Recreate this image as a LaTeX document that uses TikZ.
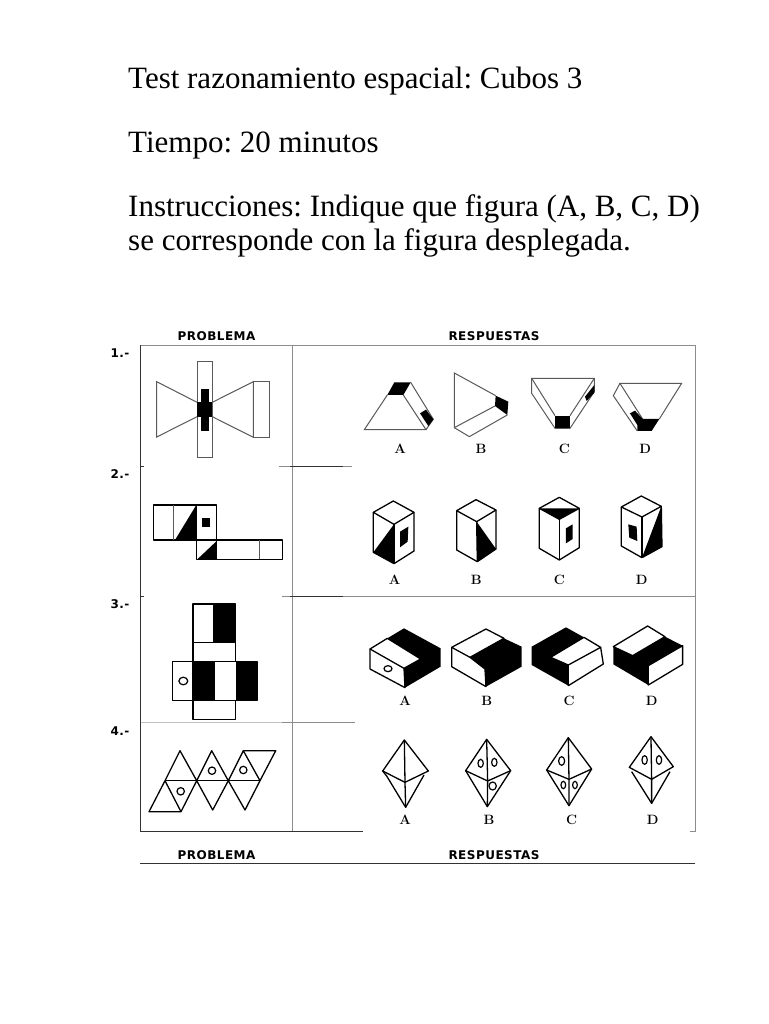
\documentclass[tikz,border=0pt]{standalone}
\usepackage{fontspec}
\newfontfamily\titlefont{Liberation Serif}
\newfontfamily\headfont[LetterSpace=4]{DejaVu Sans}
\usepackage{tikz}

\tikzset{
  titletext/.style={anchor=base west, inner sep=0pt, font=\titlefont\frenchspacing\fontsize{31}{34}\selectfont},
  headtext/.style={inner sep=0pt, font=\headfont\bfseries\fontsize{12}{14}\selectfont},
  answertext/.style={inner sep=0pt, font=\bfseries\fontsize{13.5}{15}\selectfont},
  gridgray/.style={draw=black!45, line width=0.9pt},
  griddark/.style={draw=black!80, line width=1pt},
  thinface/.style={draw=black!65, line width=1pt},
  face/.style={draw=black, line width=1.3pt, line join=round},
  hole/.style={draw=black, line width=1.2pt}
}

\begin{document}
\begin{tikzpicture}[x=1pt, y=-1pt]
  \useasboundingbox (0,0) rectangle (768,1024);
  \fill[white] (0,0) rectangle (768,1024);

  % heading
  \node[titletext] (title) at (128,89) {Test razonamiento espacial: Cubos 3};
  \node[titletext] (tiempo) at (128,153) {Tiempo: 20 minutos};
  \node[titletext] (instr) at (128,217) {Instrucciones: Indique que figura (A, B, C, D)};
  \node[titletext] (instrb) at (128,250) {se corresponde con la figura desplegada.};

  % table
  \node[headtext] (probtop) at (216.5,336.5) {PROBLEMA};
  \node[headtext] (resptop) at (494,336.5) {RESPUESTAS};
  \node[headtext] (probbot) at (216.5,855) {PROBLEMA};
  \node[headtext] (respbot) at (494,855) {RESPUESTAS};
  \foreach \y/\lab in {353/1.-, 474/2.-, 604/3.-, 731/4.-} {
    \node[headtext] at (120,\y) {\lab};
  }
  \draw[griddark] (140.7,345) -- (140.7,831) -- (363,831);
  \draw[gridgray] (140.7,345) -- (695,345) -- (695,831) -- (690,831);
  \draw[gridgray] (292,345) -- (292,831);
  \draw[griddark] (140,863) -- (695,863);
  \draw[gridgray] (279,466) -- (352,466);
  \draw[griddark] (290,466) -- (343,466);
  \draw[griddark] (140.7,466) -- (144,466);
  \draw[griddark] (140.7,596.5) -- (144,596.5);
  \draw[gridgray] (282,596.5) -- (695,596.5);
  \draw[griddark] (290,596.5) -- (343,596.5);
  \draw[draw=black!25, line width=0.7pt] (140.7,722.5) -- (282,722.5);
  \draw[gridgray] (282,722.5) -- (355,722.5);

  % problem 1
  \draw[thinface] (197,361) rectangle (212.3,457.7);
  \draw[thinface] (197,402.3) -- (156.7,381.7) -- (156.7,437) -- (197,416.7);
  \draw[thinface] (212.3,402.3) -- (253.3,381.7) -- (253.3,437.3) -- (212.3,416.7);
  \draw[thinface] (253.3,381.7) -- (269.7,381.7) -- (269.7,437.3) -- (253.3,437.3);
  \fill (201.3,389) rectangle (209.3,431);
  \fill (197,402.3) rectangle (212.3,416.7);

  % problem 2
  \draw[face] (153.3,505) rectangle (216.7,540);
  \draw[thinface] (173.3,505) -- (173.3,540);
  \draw[face] (196.3,505) -- (196.3,540);
  \fill (196.3,505) -- (196.3,540) -- (175,540) -- cycle;
  \fill (202.3,517.7) rectangle (209.7,527.3);
  \draw[face] (196.3,540) rectangle (282.3,559.3);
  \draw[face] (216.7,540) -- (216.7,559.3);
  \draw[thinface] (259.3,540) -- (259.3,559.3);
  \fill (216.7,541) -- (216.7,559.3) -- (197.3,559.3) -- cycle;

  % problem 3
  \fill (213,604) rectangle (235.7,642.7);
  \fill (193,661.7) rectangle (214.7,700.3);
  \fill (235.7,661.7) rectangle (257,700.3);
  \draw[face] (193,604) rectangle (235.7,642.7);
  \draw[face] (193,642.7) rectangle (235.7,661.7);
  \draw[face] (172.3,661.7) rectangle (257,700.3);
  \draw[face] (193,661.7) -- (193,700.3);
  \draw[face] (193,700.3) rectangle (235.7,719.3);
  \draw[hole] (183.3,681) ellipse (4.4 and 3.8);

  % problem 4
  \draw[face] (165,780.7) -- (260,780.7);
  \draw[face] (165,780.7) -- (180,750.7) -- (196.7,780.7) -- (211.7,750.7) -- (228.3,780.7)
    -- (243.3,750.7) -- (260,780.7) -- (245,810) -- (228.3,780.7) -- (212.7,810) -- (196.7,780.7)
    -- (181,811.7) -- (165,780.7) -- (149,811.7) -- (181,811.7);
  \draw[face] (243.3,750.7) -- (275.7,750.7) -- (260,780.7);
  \draw[hole] (212,770.7) circle (3.7);
  \draw[hole] (243.3,770) circle (3.7);
  \draw[hole] (180.7,791.3) circle (3.7);

  % answers, row 1
  \begin{scope}[shift={(350,325)}, scale=0.3333]
    \draw[thinface] (112,210) -- (43,314) -- (228,314) -- (160,210);
    \draw[thinface] (182,172) -- (250,283) -- (228,314);
    \fill (112,210) -- (133,172) -- (182,172) -- (160,210) -- cycle;
    \fill (210,265) -- (228,254) -- (250,283) -- (235,303) -- cycle;
    \draw[thinface] (437,212) -- (313,144) -- (313,308) -- (435,243);
    \draw[thinface] (313,308) -- (358,335) -- (472,270);
    \fill (437,212) -- (475,230) -- (472,270) -- (435,243) -- cycle;
    \draw[thinface] (545,160) -- (733,160) -- (733,200) -- (660,310) -- (615,310) -- (545,205) -- cycle;
    \draw[thinface] (545,160) -- (615,272);
    \draw[thinface] (733,160) -- (660,272);
    \fill (615,272) rectangle (660,310);
    \fill (705,215) -- (733,180) -- (733,203) -- (710,228) -- cycle;
    \draw[thinface] (878,282) -- (810,175) -- (995,175) -- (928,282);
    \draw[thinface] (810,175) -- (790,212) -- (862,318);
    \fill (840,265) -- (855,257) -- (878,282) -- (928,282) -- (905,318) -- (862,318) -- (862,300) -- cycle;
  \end{scope}
  \foreach \x/\lab in {400/A, 481/B, 564.3/C, 645.3/D} {
    \node[answertext] at (\x,449) {\lab};
  }

  % answers, row 2
  \begin{scope}[shift={(350,465)}, scale=0.3333]
    \fill (70,262) -- (132,178) -- (132,296) -- cycle;
    \fill (150,200) -- (175,185) -- (173,230) -- (150,247) -- cycle;
    \draw[face] (70,142) -- (130,108) -- (192,142) -- (132,178) -- cycle;
    \draw[face] (70,142) -- (70,262) -- (132,296) -- (192,258) -- (192,142);
    \draw[face] (132,178) -- (132,296);
    \fill (380,170) -- (438,252) -- (382,290) -- cycle;
    \draw[face] (320,137) -- (378,104) -- (438,135) -- (380,170) -- cycle;
    \draw[face] (320,137) -- (320,255) -- (382,290) -- (438,252) -- (438,135);
    \draw[face] (380,170) -- (382,290);
    \fill (568,130) -- (688,130) -- (628,163) -- cycle;
    \fill (648,190) -- (668,178) -- (668,222) -- (648,235) -- cycle;
    \draw[face] (568,130) -- (628,97) -- (688,130) -- (628,163) -- cycle;
    \draw[face] (568,130) -- (568,250) -- (628,285) -- (688,248) -- (688,130);
    \draw[face] (628,163) -- (628,285);
    \fill (934,124) -- (936,245) -- (876,278) -- cycle;
    \fill (835,178) -- (860,185) -- (862,228) -- (838,218) -- cycle;
    \draw[face] (814,126) -- (874,93) -- (934,124) -- (876,156) -- cycle;
    \draw[face] (814,126) -- (814,243) -- (876,278) -- (936,245) -- (934,124);
    \draw[face] (876,156) -- (876,278);
  \end{scope}
  \foreach \x/\lab in {394.7/A, 476.3/B, 559.3/C, 641.7/D} {
    \node[answertext] at (\x,579.7) {\lab};
  }

  % answers, row 3
  \begin{scope}[shift={(350,595)}, scale=0.3333]
    \fill (112,130) -- (162,100) -- (272,160) -- (272,215) -- (165,278) -- (162,220) -- (212,192) -- cycle;
    \draw[face] (60,162) -- (112,130) -- (212,192) -- (162,220) -- cycle;
    \draw[face] (60,162) -- (60,222) -- (165,278) -- (162,220);
    \draw[hole] (114,221) ellipse (12 and 9);
    \fill (360,187) -- (462,130) -- (515,155) -- (515,215) -- (408,275) -- (405,222) -- cycle;
    \draw[face] (305,157) -- (408,102) -- (462,130) -- (360,187) -- cycle;
    \draw[face] (305,157) -- (305,215) -- (408,275) -- (405,222) -- (360,187);
    \fill (545,155) -- (648,97) -- (702,127) -- (602,187) -- (655,210) -- (655,272) -- (545,210) -- cycle;
    \draw[face] (702,127) -- (752,157) -- (655,210) -- (602,187) -- cycle;
    \draw[face] (752,157) -- (760,207) -- (655,272) -- (655,210);
    \fill (790,155) -- (848,182) -- (945,125) -- (998,152) -- (895,212) -- (895,270) -- (790,208) -- cycle;
    \draw[face] (790,155) -- (893,93) -- (945,125) -- (848,182) -- cycle;
    \draw[face] (998,152) -- (998,208) -- (895,270) -- (895,212) -- cycle;
  \end{scope}
  \foreach \x/\lab in {405/A, 486.7/B, 569/C, 651.7/D} {
    \node[answertext] at (\x,701) {\lab};
  }

  % answers, row 4
  \begin{scope}[shift={(350,720)}, scale=0.3333]
    \draw[face] (98,153) -- (163,60) -- (235,153) -- (165,187) -- cycle;
    \draw[face] (163,60) -- (165,187) -- (167,262);
    \draw[face] (98,153) -- (110,168) -- (167,262) -- (222,165);
    \draw[face] (347,152) -- (410,58) -- (482,152) -- (413,183) -- cycle;
    \draw[face] (410,58) -- (413,183) -- (412,260);
    \draw[face] (347,152) -- (412,260) -- (482,152);
    \draw[hole] (392,130) ellipse (8 and 12);
    \draw[hole] (433,127) ellipse (8 and 12);
    \draw[hole] (428,198) ellipse (11 and 12);
    \draw[face] (590,150) -- (655,53) -- (725,147) -- (657,178) -- cycle;
    \draw[face] (655,53) -- (657,178) -- (657,257);
    \draw[face] (590,150) -- (657,257) -- (725,147);
    \draw[hole] (635,123) ellipse (9 and 13);
    \draw[hole] (640,195) ellipse (7 and 11);
    \draw[hole] (675,195) ellipse (7 and 11);
    \draw[face] (838,142) -- (903,50) -- (970,140) -- (905,178) -- cycle;
    \draw[face] (903,50) -- (905,178) -- (905,250);
    \draw[face] (845,155) -- (905,250) -- (960,155);
    \draw[hole] (884,120) ellipse (8 and 13);
    \draw[hole] (927,120) ellipse (8 and 13);
  \end{scope}
  \foreach \x/\lab in {405/A, 489/B, 571.7/C, 652.7/D} {
    \node[answertext] at (\x,820) {\lab};
  }
\end{tikzpicture}
\end{document}
